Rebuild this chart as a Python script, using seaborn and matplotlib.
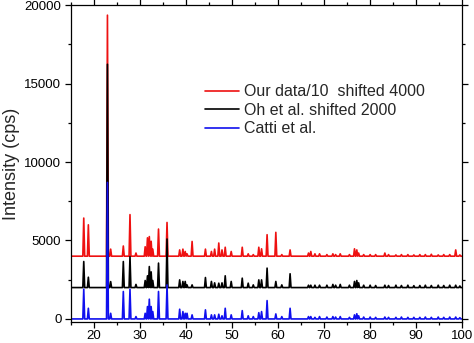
import numpy as np
import pandas as pd
import matplotlib
matplotlib.use("Agg")
import matplotlib.pyplot as plt
from matplotlib.ticker import MultipleLocator
import seaborn as sns

# Peak positions (2-theta, degrees)
peak_pos = [17.75, 18.75, 22.9, 23.6, 26.35, 27.8, 29.1, 31.1, 31.6, 32.0, 32.4, 32.75,
            34.0, 35.85, 38.6, 39.3, 39.8, 40.2, 41.3, 44.2, 45.5, 46.2, 47.1, 47.8,
            48.5, 49.8, 52.2, 53.5, 54.6, 55.8, 56.4, 57.6, 59.5, 60.8, 62.6, 66.6,
            67.1, 68.0, 69.0, 70.6, 71.9, 72.5, 73.5, 75.5, 76.6, 77.1, 77.5, 78.6,
            80.0, 81.2, 83.2, 84.0, 85.6, 86.8, 88.2, 89.5, 90.8, 92.0, 93.3, 94.8,
            96.0, 97.3, 98.6, 99.5]
# Peak heights above each trace's own baseline (cps)
red_heights = [2430, 2000, 15360, 450, 650, 2650, 200, 600, 1170, 1250, 950, 450,
               1730, 2150, 400, 450, 300, 150, 940, 450, 300, 450, 840, 400,
               570, 300, 570, 150, 100, 570, 470, 1370, 1520, 100, 400, 200,
               300, 150, 150, 100, 150, 100, 150, 100, 470, 400, 200, 100,
               100, 100, 200, 100, 80, 100, 100, 80, 100, 100, 120, 80,
               100, 100, 400, 80]
black_heights = [1660, 660, 14230, 380, 1660, 1980, 200, 450, 750, 1340, 1000, 450,
                 1560, 3090, 490, 390, 390, 170, 170, 640, 390, 300, 280, 300,
                 750, 390, 600, 280, 170, 490, 490, 1240, 390, 170, 880, 150,
                 150, 150, 150, 150, 200, 150, 200, 150, 390, 450, 300, 150,
                 150, 130, 150, 130, 150, 130, 150, 120, 130, 150, 130, 150,
                 130, 150, 150, 100]
blue_heights = [1900, 680, 8700, 360, 1750, 1900, 150, 360, 790, 1260, 790, 470,
                1750, 2170, 620, 470, 360, 360, 260, 580, 260, 260, 300, 200,
                680, 260, 530, 200, 150, 400, 470, 1170, 320, 150, 680, 150,
                150, 100, 150, 120, 150, 120, 150, 100, 260, 330, 200, 120,
                120, 100, 120, 100, 100, 120, 100, 100, 100, 120, 100, 120,
                100, 120, 120, 80]

labels = ["Our data/10  shifted 4000", "Oh et al. shifted 2000", "Catti et al."]
offsets = [4000, 2000, 0]
colors = ["#ee1111", "#000000", "#1010ee"]
x_range = [15, 100]

half_w = 0.2


def profile(heights, offset):
    xs, ys = [x_range[0]], [offset]
    for p, h in sorted(zip(peak_pos, heights)):
        xs += [p - half_w, p, p + half_w]
        ys += [offset, offset + h, offset]
    xs.append(x_range[1])
    ys.append(offset)
    return xs, ys


frames = []
for lab, hts, off in zip(labels, [red_heights, black_heights, blue_heights], offsets):
    xs, ys = profile(hts, off)
    frames.append(pd.DataFrame({"two_theta": xs, "intensity": ys, "series": lab}))
df = pd.concat(frames, ignore_index=True)

sns.set_theme(style="ticks")
plt.rcParams["font.family"] = ["Liberation Sans", "DejaVu Sans"]

fig = plt.figure(figsize=(4.74, 3.43), dpi=100)
ax = fig.add_axes([0.150, 0.061, 0.825, 0.924])

sns.lineplot(data=df, x="two_theta", y="intensity", hue="series",
             hue_order=labels, palette=colors, estimator=None, sort=False,
             linewidth=1.2, ax=ax)

ax.set_xlim(x_range)
ax.set_ylim(-200, 20000)
ax.xaxis.set_major_locator(MultipleLocator(10))
ax.xaxis.set_minor_locator(MultipleLocator(5))
ax.yaxis.set_major_locator(MultipleLocator(5000))
ax.yaxis.set_minor_locator(MultipleLocator(2500))
ax.set_xticks(range(20, 101, 10))
ax.tick_params(which="both", direction="out", top=True, right=True,
               labelsize=9.5, width=0.9, colors="black")
ax.tick_params(which="major", length=4.5)
ax.tick_params(which="minor", length=2.5)
ax.tick_params(axis="x", which="major", pad=1.5)
ax.tick_params(axis="y", which="major", pad=2.5)
for s in ax.spines.values():
    s.set_visible(True)
    s.set_linewidth(0.9)
    s.set_color("black")
ax.set_xlabel("")
ax.set_ylabel("Intensity (cps)", fontsize=13, labelpad=3)

handles, labs = ax.get_legend_handles_labels()
ax.legend(handles, labs, loc="upper left", bbox_to_anchor=(0.343, 0.75),
          frameon=False, fontsize=11.5, handlelength=2.1, handletextpad=0.3,
          labelspacing=0.22, borderpad=0, borderaxespad=0)

fig.savefig("out.png", dpi=100)
